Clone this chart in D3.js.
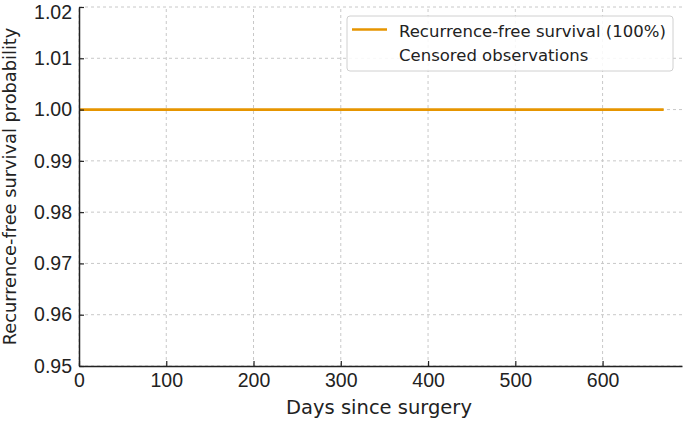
<!DOCTYPE html>
<html>
<head>
<meta charset="utf-8">
<script src="https://cdn.jsdelivr.net/npm/d3@7"></script>
<style>
  body { margin: 0; background: #fff; }
  svg { display: block; font-family: "DejaVu Sans", sans-serif; }
</style>
</head>
<body>
<svg id="chart" width="685" height="422"></svg>
<script>
// Kaplan-Meier style data: no events, survival stays at 1.0
var days = [0, 670];
var survival = [1.0, 1.0];
var xTicks = [0, 100, 200, 300, 400, 500, 600];
var yTicks = [0.95, 0.96, 0.97, 0.98, 0.99, 1.00, 1.01, 1.02];
var legendLabels = ["Recurrence-free survival (100%)", "Censored observations"];

var margin = {left: 79, right: 3, top: 7, bottom: 56};
var width = 685, height = 422;

var svg = d3.select("#chart");

var x = d3.scaleLinear().domain([0, 691]).range([margin.left, width - margin.right]);
var y = d3.scaleLinear().domain([0.95, 1.02]).range([height - margin.bottom, margin.top]);

// grid
var grid = svg.append("g");
grid.selectAll(".vg").data(xTicks).enter().append("line")
    .attr("x1", function(d) { return x(d); })
    .attr("x2", function(d) { return x(d); })
    .attr("y1", y(0.95)).attr("y2", y(1.02))
    .attr("stroke", "#c8c8c8").attr("stroke-width", 1).attr("stroke-dasharray", "3,3");
grid.selectAll(".hg").data(yTicks).enter().append("line")
    .attr("x1", x(0)).attr("x2", width)
    .attr("y1", function(d) { return y(d); })
    .attr("y2", function(d) { return y(d); })
    .attr("stroke", "#c8c8c8").attr("stroke-width", 1).attr("stroke-dasharray", "3,3");

// survival line
var line = d3.line()
    .x(function(d, i) { return x(days[i]); })
    .y(function(d) { return y(d); });
svg.append("path")
    .datum(survival)
    .attr("d", line)
    .attr("fill", "none")
    .attr("stroke", "#e69500")
    .attr("stroke-width", 2.7);

// axes, ticks point inward
var xAxis = d3.axisBottom(x).tickValues(xTicks).tickSizeInner(-5).tickSizeOuter(0).tickPadding(7);
var yAxis = d3.axisLeft(y).tickValues(yTicks).tickSizeInner(-5).tickSizeOuter(0).tickPadding(7)
    .tickFormat(d3.format(".2f"));

var gx = svg.append("g").attr("transform", "translate(0," + y(0.95) + ")").call(xAxis);
var gy = svg.append("g").attr("transform", "translate(" + x(0) + ",0)").call(yAxis);
[gx, gy].forEach(function(g) {
    g.select(".domain").attr("stroke", "#222").attr("stroke-width", 1.5);
    g.selectAll(".tick line").attr("stroke", "#222").attr("stroke-width", 1.2);
    g.selectAll(".tick text").attr("fill", "#222").style("font-size", "19.5px");
});
// keep the top label inside the picture
gy.selectAll(".tick text").filter(function(d) { return d === 1.02; }).attr("dy", "0.6em");

// axis titles
svg.append("text")
    .attr("x", 379).attr("y", 414)
    .attr("text-anchor", "middle").attr("fill", "#222")
    .style("font-size", "19.5px")
    .text("Days since surgery");
svg.append("text")
    .attr("transform", "translate(16," + ((y(0.95) + y(1.02)) / 2) + ") rotate(-90)")
    .attr("text-anchor", "middle").attr("fill", "#222")
    .style("font-size", "17.8px")
    .text("Recurrence-free survival probability");

// legend
var lg = svg.append("g").attr("transform", "translate(347,16)");
lg.append("rect")
    .attr("width", 326).attr("height", 55).attr("rx", 3)
    .attr("fill", "#fff").attr("fill-opacity", 0.85)
    .attr("stroke", "#d0d0d0");
lg.append("line")
    .attr("x1", 5).attr("x2", 40).attr("y1", 13.5).attr("y2", 13.5)
    .attr("stroke", "#e69500").attr("stroke-width", 2.7);
lg.selectAll(".lt").data(legendLabels).enter().append("text")
    .attr("x", 52)
    .attr("y", function(d, i) { return 21 + i * 24; })
    .attr("fill", "#222")
    .style("font-size", "16.5px")
    .text(function(d) { return d; });
</script>
</body>
</html>
